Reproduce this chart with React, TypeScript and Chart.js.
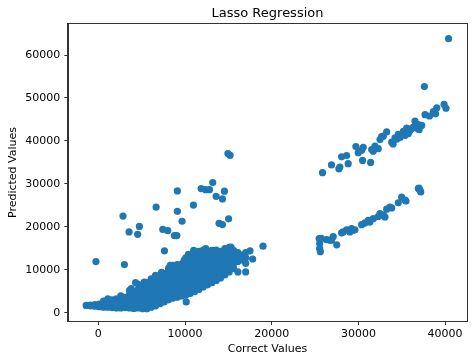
import React, { useEffect, useRef } from "react";
import { Chart, registerables } from "chart.js";

Chart.register(...registerables);

const chartTitle = "Lasso Regression";
const xTicks = [0, 10000, 20000, 30000, 40000];
const yTicks = [0, 10000, 20000, 30000, 40000, 50000, 60000];

// Dense cluster (non-smokers): correct value column -> predicted values read in that column
const clusterCorrect = [
  -1400, -900, -400, 100, 600, 1100, 1600, 2100, 2600, 3100, 3600, 4100, 4600, 5100, 5600,
  6100, 6600, 7100, 7600, 8100, 8600, 9100, 9600, 10100, 10600, 11100, 11600, 12100, 12600,
  13100, 13600, 14100, 14600, 15100, 15600, 16100, 16600, 17000, 17500, 17800,
];
const clusterPredicted = [
  [1700],
  [1600, 1800],
  [1500, 1900],
  [1400, 2000],
  [1300, 2200, 2700],
  [1300, 2300, 3200],
  [1200, 2200, 3000],
  [1100, 2100, 3200],
  [1100, 2000, 3000, 3900],
  [1200, 2200, 3300, 3600],
  [1100, 2100, 3100, 4200, 5200],
  [1000, 2000, 3000, 4000, 4900],
  [1100, 2100, 3200, 4300, 5400, 6600],
  [900, 1900, 3000, 4100, 5200, 6300],
  [900, 1900, 2900, 4000, 5100, 6100, 7000],
  [1300, 2400, 3500, 4600, 5700, 6800, 7900],
  [1600, 2700, 3800, 4900, 6000, 7100, 8200, 8700],
  [2100, 3200, 4300, 5400, 6500, 7600, 8600],
  [2500, 3600, 4700, 5800, 6900, 8000, 9100],
  [3000, 4100, 5200, 6300, 7400, 8500, 9600, 10300],
  [3400, 4500, 5600, 6700, 7800, 8900, 10000, 11000],
  [3600, 4700, 5800, 6900, 8000, 9100, 10200, 11200],
  [3900, 5000, 6100, 7200, 8300, 9400, 10500, 11300],
  [4100, 5200, 6300, 7400, 8500, 9600, 10700, 11800, 12800],
  [4500, 5600, 6700, 7800, 8900, 10000, 11100, 12200, 13200],
  [4900, 6000, 7100, 8200, 9300, 10400, 11500, 12600, 13700],
  [5400, 6500, 7600, 8700, 9800, 10900, 12000, 13100, 14300],
  [6000, 7100, 8200, 9300, 10400, 11500, 12600, 13700, 14600],
  [6500, 7600, 8700, 9800, 10900, 12000, 13100, 14200],
  [7000, 8100, 9200, 10300, 11400, 12500, 13600, 14500],
  [7500, 8600, 9700, 10800, 11900, 13000, 14100, 14600],
  [8100, 9200, 10300, 11400, 12500, 13600, 14300],
  [8800, 9900, 11000, 12100, 13200, 14300, 14900],
  [9500, 10600, 11700, 12800, 13900, 15200],
  [10300, 11400, 12500, 13600, 14500],
  [9500, 11900, 13000, 14000],
  [12300, 13400],
  [9500, 11500, 12800, 14000],
  [14400],
  [12500],
];

// Extra points on the ragged upper edge of the dense cluster
const clusterEdge: [number, number][] = [
  [3800, 5600], [4300, 7000], [5300, 7100], [7300, 9400], [8300, 11000],
  [9900, 12200], [10400, 13600], [11000, 14500], [12400, 14900], [15300, 15300],
];

// Scattered points above / around the dense cluster
const scatteredPoints: [number, number][] = [
  [2850, 22500], [3550, 18800], [4540, 18250], [4740, 20100], [6670, 24600],
  [7440, 19400], [8010, 19100], [8780, 17950], [9060, 17950], [9120, 28350],
  [9120, 23600], [9660, 21300], [10970, 25050], [11860, 28900], [12370, 28650],
  [12820, 28650], [13200, 30300], [13590, 27100], [14320, 26500], [14550, 28300],
  [13930, 20800], [14320, 20530], [15030, 21850], [14950, 37050], [15200, 36650],
  [19000, 15500], [7630, 14400], [-270, 11900], [3010, 11200], [10140, 2500],
];

// Upper band of high values
const upperBand: [number, number][] = [
  [25860, 32600], [26900, 34400], [27860, 33900], [27750, 33500], [28060, 36300],
  [28640, 36600], [28820, 34700], [29710, 38700], [29980, 37250], [30370, 37800],
  [30560, 38500], [30480, 35450], [31410, 35000], [31710, 37600], [31910, 38800],
  [32290, 38200], [31530, 38000], [32490, 40300], [32680, 41000], [32870, 41100],
  [33260, 42100], [33840, 39700], [34000, 39300], [34220, 40700], [34420, 40400],
  [34600, 41500], [34800, 40800], [35180, 42200], [35400, 41300], [35570, 43000],
  [35760, 41700], [35900, 42300], [36100, 42800], [36340, 43200], [36530, 44600],
  [36700, 43000], [36910, 43800], [37000, 42600], [37300, 43600], [37690, 46100],
  [38200, 45800], [38650, 46800], [38900, 46300], [39040, 47700], [39880, 48500],
  [40100, 47600], [37610, 52650], [40400, 63800],
];

// Lower band of high values
const lowerBand: [number, number][] = [
  [25470, 17270], [25530, 16100], [25530, 14950], [25610, 14200], [25720, 17300],
  [26320, 17000], [26710, 16880], [26900, 16900], [27090, 17700], [27500, 15800],
  [28060, 18600], [28250, 18800], [28640, 19300], [29020, 18800], [29210, 19600],
  [29400, 19200], [29600, 19300], [30370, 20500], [30750, 20900], [31140, 21500],
  [31330, 21100], [31710, 21900], [32290, 22400], [32490, 23100], [32870, 22700],
  [33060, 22300], [33260, 24100], [33640, 24600], [33840, 24400], [34600, 25600],
  [34990, 26900], [35380, 26200], [35490, 26000], [36910, 28900], [37110, 28500],
  [37190, 28100], [37000, 29000],
];

const BLUE = "#1f77b4";
const AXIS = "#333333";
const TEXT = "#000000";
const FONT = "DejaVu Sans";

export default function App() {
  const ref = useRef<HTMLCanvasElement>(null);

  useEffect(() => {
    document.body.style.margin = "0";
    const points: { x: number; y: number }[] = [];
    clusterCorrect.forEach((x, i) => {
      clusterPredicted[i].forEach((y) => points.push({ x, y }));
    });
    [...clusterEdge, ...scatteredPoints, ...upperBand, ...lowerBand].forEach(([x, y]) =>
      points.push({ x, y })
    );

    const boxPlugin = {
      id: "axesBox",
      afterDraw(chart: any) {
        const { ctx, chartArea: a } = chart;
        ctx.save();
        ctx.strokeStyle = AXIS;
        ctx.lineWidth = 1;
        ctx.strokeRect(
          Math.round(a.left) - 0.5,
          Math.round(a.top) - 0.5,
          Math.round(a.right) - Math.round(a.left) + 1,
          Math.round(a.bottom) - Math.round(a.top) + 1
        );
        // Title centred over the axes, as matplotlib does
        ctx.fillStyle = TEXT;
        ctx.font = `normal 13px "${FONT}"`;
        ctx.textAlign = "center";
        ctx.textBaseline = "middle";
        ctx.fillText(chartTitle, (a.left + a.right) / 2, 13.3);
        ctx.restore();
      },
    };

    const tickFont = { family: FONT, size: 11 };
    const chart = new Chart(ref.current as HTMLCanvasElement, {
      type: "scatter",
      data: {
        datasets: [
          {
            data: points,
            backgroundColor: BLUE,
            borderColor: BLUE,
            borderWidth: 0,
            pointRadius: 3.6,
            pointHoverRadius: 3.6,
          },
        ],
      },
      options: {
        responsive: false,
        animation: false,
        events: [],
        layout: { padding: { left: 0, right: 7.3, top: 24, bottom: 0 } },
        plugins: {
          legend: { display: false },
          tooltip: { enabled: false },
          title: { display: false },
        },
        scales: {
          x: {
            type: "linear",
            min: -3460,
            max: 42490,
            afterFit: (s: any) => {
              s.height = 43;
            },
            afterBuildTicks: (s: any) => {
              s.ticks = xTicks.map((v) => ({ value: v }));
            },
            ticks: {
              font: tickFont,
              color: TEXT,
              padding: 3,
              maxRotation: 0,
              callback: (v: any) => String(v),
            },
            grid: { drawOnChartArea: false, drawTicks: true, tickLength: 4, color: AXIS },
            border: { display: true, color: AXIS },
            title: {
              display: true,
              text: "Correct Values",
              color: TEXT,
              font: tickFont,
              padding: { top: 0, bottom: 8.7 },
            },
          },
          y: {
            type: "linear",
            min: -1930,
            max: 67220,
            afterFit: (s: any) => {
              s.width = 68.3;
            },
            afterBuildTicks: (s: any) => {
              s.ticks = yTicks.map((v) => ({ value: v }));
            },
            ticks: {
              font: tickFont,
              color: TEXT,
              padding: 4,
              callback: (v: any) => String(v),
            },
            grid: { drawOnChartArea: false, drawTicks: true, tickLength: 4, color: AXIS },
            border: { display: true, color: AXIS },
            title: {
              display: true,
              text: "Predicted Values",
              color: TEXT,
              font: tickFont,
              padding: { top: 6.1, bottom: 0 },
            },
          },
        },
      },
      plugins: [boxPlugin],
    } as any);
    return () => chart.destroy();
  }, []);

  return <canvas ref={ref} width={474} height={364} style={{ display: "block" }} />;
}
